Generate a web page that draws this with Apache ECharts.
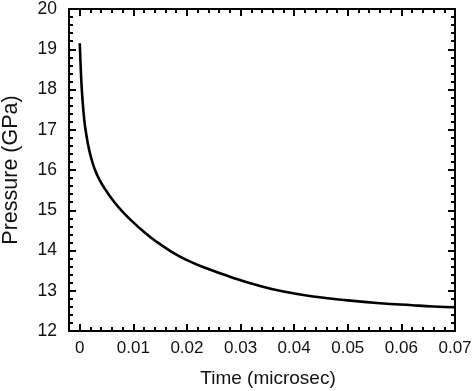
<!DOCTYPE html>
<html>
<head>
<meta charset="utf-8">
<script src="https://cdn.jsdelivr.net/npm/echarts@6/dist/echarts.min.js"></script>
<style>
html,body{margin:0;padding:0;background:#fff;}
#c{width:474px;height:391px;}
</style>
</head>
<body>
<div id="c"></div>
<script>
// Data
var timeUs = [0, 0.0002, 0.0004, 0.0007, 0.001, 0.0015, 0.002, 0.0028, 0.0038, 0.005, 0.0064, 0.0078, 0.0095, 0.012, 0.014, 0.017, 0.020, 0.024, 0.028, 0.033, 0.038, 0.044, 0.050, 0.056, 0.062, 0.066, 0.070];
var pressureGPa = [19.15, 18.5, 17.98, 17.45, 17.08, 16.67, 16.37, 16.02, 15.73, 15.47, 15.21, 14.99, 14.76, 14.46, 14.25, 13.98, 13.76, 13.54, 13.35, 13.14, 12.98, 12.85, 12.76, 12.69, 12.64, 12.61, 12.59];
var xMajorTicks = [0, 0.01, 0.02, 0.03, 0.04, 0.05, 0.06, 0.07];
var xMinorTicks = [-0.002, 0.002, 0.004, 0.006, 0.008, 0.012, 0.014, 0.016, 0.018, 0.022, 0.024, 0.026, 0.028, 0.032, 0.034, 0.036, 0.038, 0.042, 0.044, 0.046, 0.048, 0.052, 0.054, 0.056, 0.058, 0.062, 0.064, 0.066, 0.068];
var xRange = [-0.002, 0.07];
var yRange = [12, 20];
var yStep = 1;
var xTitle = 'Time (microsec)';
var yTitle = 'Pressure (GPa)';

var FONT = 'Liberation Sans, Arial, Helvetica, sans-serif';
var points = timeUs.map(function (t, i) { return [t, pressureGPa[i]]; });

function xAx(pos, ticks, len, showLabels, showLine) {
  return {
    type: 'value', position: pos, min: xRange[0], max: xRange[1],
    axisLine: { show: showLine, onZero: false, lineStyle: { color: '#000', width: 2 } },
    axisTick: { show: true, inside: true, length: len, customValues: ticks, lineStyle: { color: '#000', width: 2 } },
    axisLabel: { show: showLabels, customValues: ticks, margin: 9, color: '#111', fontSize: 17, fontFamily: FONT },
    splitLine: { show: false }
  };
}

var option = {
  animation: false,
  backgroundColor: '#fff',
  grid: { left: 69, right: 19, top: 9, bottom: 60, containLabel: false, outerBoundsMode: 'none' },
  xAxis: [
    Object.assign(xAx('bottom', xMajorTicks, 7, true, true), {
      name: xTitle, nameLocation: 'middle', nameGap: 38,
      nameTextStyle: { color: '#111', fontSize: 19, fontFamily: FONT, padding: [0, 0, 0, 12] }
    }),
    xAx('bottom', xMinorTicks, 4, false, false),
    xAx('top', xMajorTicks, 7, false, true),
    xAx('top', xMinorTicks, 4, false, false)
  ],
  yAxis: [
    {
      type: 'value', position: 'left', min: yRange[0], max: yRange[1], interval: yStep,
      name: yTitle, nameLocation: 'middle', nameGap: 47,
      nameTextStyle: { color: '#111', fontSize: 21.5, fontFamily: FONT },
      axisLine: { show: true, onZero: false, lineStyle: { color: '#000', width: 2 } },
      axisTick: { show: true, inside: true, length: 7, lineStyle: { color: '#000', width: 2 } },
      minorTick: { show: true, splitNumber: 5, length: 4, lineStyle: { color: '#000', width: 2 } },
      axisLabel: { margin: 12, color: '#111', fontSize: 17.5, fontFamily: FONT },
      splitLine: { show: false }
    },
    {
      type: 'value', position: 'right', min: yRange[0], max: yRange[1], interval: yStep,
      axisLine: { show: true, onZero: false, lineStyle: { color: '#000', width: 2 } },
      axisTick: { show: true, inside: true, length: 7, lineStyle: { color: '#000', width: 2 } },
      minorTick: { show: true, splitNumber: 5, length: 4, lineStyle: { color: '#000', width: 2 } },
      axisLabel: { show: false },
      splitLine: { show: false }
    }
  ],
  series: [{
    type: 'line', data: points, xAxisIndex: 0, yAxisIndex: 0,
    smooth: 0.5, showSymbol: false, symbol: 'none',
    lineStyle: { color: '#000', width: 2.6 }
  }]
};

var chart = echarts.init(document.getElementById('c'), null, { renderer: 'canvas' });
chart.setOption(option);
</script>
</body>
</html>
